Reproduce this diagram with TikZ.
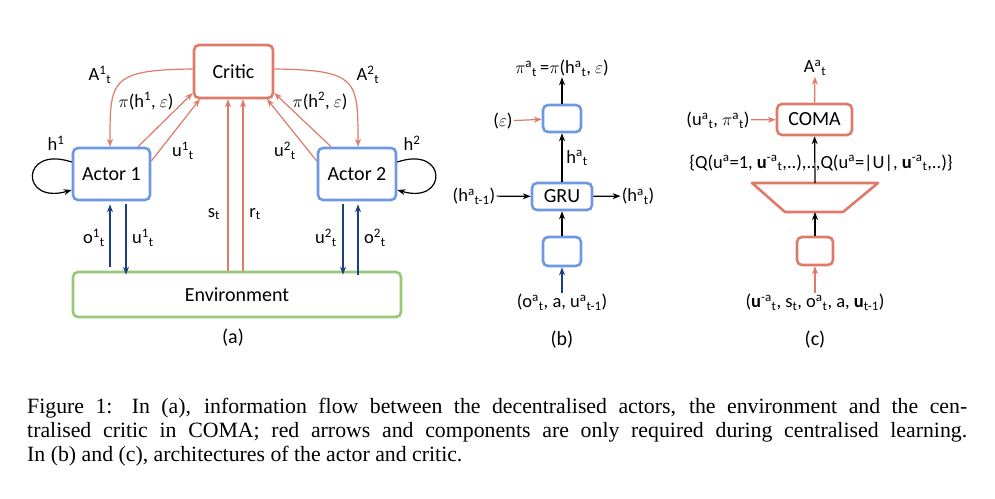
\documentclass[tikz,border=0pt]{standalone}
\usepackage{fontspec}
\setmainfont{Carlito}
\newfontfamily\capfont{Liberation Serif}
\usetikzlibrary{arrows.meta}
\definecolor{cred}{RGB}{224,122,104}
\definecolor{cblue}{RGB}{110,152,228}
\definecolor{dblue}{RGB}{30,62,130}
\definecolor{cgreen}{RGB}{150,200,120}
\newcommand{\sps}[2]{\textsuperscript{#1}\textsubscript{#2}}
\begin{document}
\begin{tikzpicture}[x=1pt,y=-1pt,
 box/.style={draw,line width=2.6pt,rounded corners=5pt,inner sep=0pt},
 rbox/.style={box,draw=cred},
 bbox/.style={box,draw=cblue},
 lab/.style={font=\fontsize{18.5}{20}\selectfont,inner sep=1pt},
 big/.style={font=\fontsize{20}{22}\selectfont},
 ra/.style={draw=cred,line width=1.2pt,-{Stealth[length=8pt,width=6pt]}},
 ba/.style={draw=dblue,line width=1.2pt,-{Stealth[length=8pt,width=6pt]}},
 ka/.style={draw=black,line width=1.2pt,-{Stealth[length=8pt,width=6pt]}}]
\useasboundingbox (0,0) rectangle (995,498);
\begin{scope}[every node/.append style={lab}]
% (a)
\node[rbox,big,minimum width=79pt,minimum height=53pt] (critic) at (233.5,71.5) {Critic};
\node[bbox,big,minimum width=77pt,minimum height=52pt] (a1) at (111.5,174) {Actor 1};
\node[bbox,big,minimum width=78pt,minimum height=52pt] (a2) at (357,174) {Actor 2};
\node[draw=cgreen,big,line width=2.6pt,rounded corners=5pt,minimum width=328pt,minimum height=45pt] (env) at (237,294.5) {Environment};
\node[big] at (233,338) {(a)};
\draw[ra] (critic.west|-0,69) .. controls (110,70) and (110,80) .. (a1.north-|110,0);
\draw[ra] (critic.east|-0,69) .. controls (358,70) and (358,80) .. (a2.north-|358,0);
\node at (100,75) {A\sps{1}{t}};
\node at (368,75) {A\sps{2}{t}};
\draw[ra] (a1.north-|138,0) -- (critic.south west|-0,93);
\draw[ra] (a1.east|-0,161) -- (200,99);
\draw[ra] (a2.north-|331,0) -- (critic.south east|-0,93);
\draw[ra] (a2.west|-0,161) -- (267,99);
\node at (146,101) {$\pi$(h\textsuperscript{1}, $\varepsilon$)};
\node at (320,101) {$\pi$(h\textsuperscript{2}, $\varepsilon$)};
\node at (183,151) {u\sps{1}{t}};
\node at (285,151) {u\sps{2}{t}};
\draw[ra] (env.north-|228,0) -- (critic.south-|228,0);
\draw[ra] (env.north-|243,0) -- (critic.south-|243,0);
\node at (214,214) {s\textsubscript{t}};
\node at (255,214) {r\textsubscript{t}};
\draw[ba] (env.north-|110,0) ++(0,-4) -- ([yshift=-3pt]a1.south-|110,0);
\draw[ba] ([yshift=-3pt]a1.south-|126,0) -- ([yshift=-4pt]env.north-|126,0);
\draw[ba] ([yshift=-3pt]a2.south-|343,0) -- ([yshift=-4pt]env.north-|343,0);
\draw[ba] ([yshift=-4pt]env.north-|358,0) -- ([yshift=-3pt]a2.south-|358,0);
\node at (94,238) {o\sps{1}{t}};
\node at (143,238) {u\sps{1}{t}};
\node at (326,238) {u\sps{2}{t}};
\node at (375,238) {o\sps{2}{t}};
\draw[ka] (a1.west|-0,162) .. controls (20,145) and (20,205) .. (a1.west|-0,190);
\draw[ka] (a2.east|-0,162) .. controls (448,145) and (448,205) .. (a2.east|-0,190);
\node at (56,143) {h\textsuperscript{1}};
\node at (412,143) {h\textsuperscript{2}};
% (b)
\node (bt) at (562,68) {$\pi$\sps{a}{t}\,=$\pi$(h\sps{a}{t}, $\varepsilon$)};
\node[bbox,minimum width=38pt,minimum height=27pt] (b1) at (562,118.5) {};
\node[bbox,big,minimum width=60pt,minimum height=27pt] (gru) at (562,196.5) {GRU};
\node[bbox,minimum width=38pt,minimum height=29pt] (b0) at (562,251.5) {};
\node (bb) at (562,302) {(o\sps{a}{t}, a, u\sps{a}{t-1})};
\node (eps) at (503,121) {($\varepsilon$)};
\node (hl) at (474,196) {(h\sps{a}{t-1})};
\node (hr) at (638,196) {(h\sps{a}{t})};
\node at (577,158) {h\sps{a}{t}};
\draw[ka] (b1) -- (bt);
\draw[ra] (eps) -- (b1);
\draw[ka] (gru) -- (b1);
\draw[ka] (hl) -- (gru);
\draw[ka] (gru) -- (hr);
\draw[ka] (b0) -- (gru);
\draw[ba] (bb) -- (b0);
\node[big] at (562,340) {(b)};
% (c)
\node (ct) at (815,68) {A\sps{a}{t}};
\node[rbox,big,minimum width=75pt,minimum height=31pt] (coma) at (814.5,119.5) {COMA};
\node (up) at (718,120) {(u\sps{a}{t}, $\pi$\sps{a}{t})};
\node at (821,163) {\{Q(u\textsuperscript{a}=1, \textbf{u}\sps{-a}{t},..),..,Q(u\textsuperscript{a}=|U|, \textbf{u}\sps{-a}{t},..)\}};
\draw[cred,line width=2.6pt,line join=round] (752,183) -- (878,183) -- (843,212) -- (785,212) -- cycle;
\coordinate (trt) at (815,183);
\coordinate (trb) at (815,212);
\node[rbox,minimum width=36pt,minimum height=28pt] (c0) at (815,251) {};
\node (cb) at (815,302) {(\textbf{u}\sps{-a}{t}, s\textsubscript{t}, o\sps{a}{t}, a, \textbf{u}\textsubscript{t-1})};
\draw[ra] (coma) -- (ct);
\draw[ra] (up) -- (coma);
\draw[ka] (trt) -- (coma);
\draw[ka] (c0) -- (trb);
\draw[ra] (cb) -- (c0);
\node[big] at (815,340) {(c)};
\end{scope}
\node[anchor=north west,inner sep=0pt,text width=940pt,align=justify,font=\capfont\fontsize{21.8}{24}\selectfont] at (27,398)
{Figure 1: In (a), information flow between the decentralised actors, the environment and the cen-\linebreak tralised critic in COMA; red arrows and components are only required during centralised learning.\linebreak In (b) and (c), architectures of the actor and critic.};
\end{tikzpicture}
\end{document}
